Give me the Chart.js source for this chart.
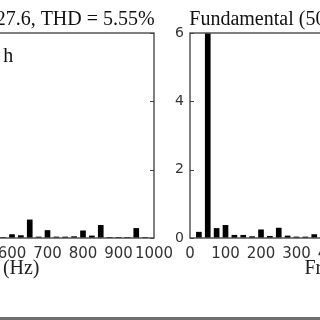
<!DOCTYPE html>
<html><head><meta charset="utf-8">
<script src="https://cdn.jsdelivr.net/npm/chart.js@4.4.1/dist/chart.umd.min.js"></script>
<style>
html,body{margin:0;padding:0;width:320px;height:320px;overflow:hidden;background:#fff;position:relative}
.c{position:absolute;top:0;width:420px;height:300px}
#bar{position:absolute;left:0;top:317px;width:320px;height:3px;background:#6e6e6e}
</style></head><body>
<div class="c" style="left:-231px"><canvas id="left" width="420" height="300"></canvas></div>
<div class="c" style="left:160px"><canvas id="right" width="420" height="300"></canvas></div>
<div id="bar"></div>
<script>
// Left panel: harmonic spectrum (% of fundamental), visible part 575–975 Hz
const leftFreqs = [575, 600, 625, 650, 675, 700, 725, 750, 775, 800, 825, 850, 875, 900, 925, 950, 975];
const leftMags  = [0.02, 0.10, 0.07, 0.53, 0.03, 0.22, 0.03, 0.03, 0.04, 0.21, 0.06, 0.37, 0.02, 0.02, 0.02, 0.28, 0.02];
// Right panel: visible part 25–375 Hz (fundamental at 50 Hz = 100 %)
const rightFreqs = [25, 50, 75, 100, 125, 150, 175, 200, 225, 250, 275, 300, 325, 350, 375];
const rightMags  = [0.17, 100, 0.28, 0.37, 0.08, 0.08, 0.04, 0.24, 0.05, 0.29, 0.06, 0.03, 0.03, 0.10, 0.05];

const xTicks = [0, 100, 200, 300, 400, 500, 600, 700, 800, 900, 1000];
const yTicks = [0, 2, 4, 6];
const leftTitle = 'Fundamental (50Hz) = 127.6, THD = 5.55%';
const rightTitle = 'Fundamental (50Hz) = 127.6, THD = 0.79%';
const xTitle = 'Frequency (Hz)';
const leftNote = 'h';

const framePlugin = {
  id: 'frameTitle',
  afterDatasetsDraw(chart, args, opts) {
    const {ctx, chartArea: a, scales} = chart;
    ctx.save();
    ctx.strokeStyle = '#555';
    ctx.lineWidth = 1.5;
    ctx.strokeRect(a.left, a.top, a.right - a.left, a.bottom - a.top);
    ctx.lineWidth = 1;
    ctx.strokeStyle = '#444';
    yTicks.forEach(v => {
      const y = Math.round(scales.y.getPixelForValue(v)) + 0.5;
      ctx.beginPath();
      ctx.moveTo(a.left, y); ctx.lineTo(a.left + 4, y);
      ctx.moveTo(a.right, y); ctx.lineTo(a.right - 4, y);
      ctx.stroke();
    });
    ctx.fillStyle = '#111';
    ctx.font = opts.titleSize + 'px "Liberation Serif"';
    ctx.textAlign = 'center';
    ctx.textBaseline = 'alphabetic';
    ctx.fillText(opts.text, (a.left + a.right) / 2, 25);
    if (opts.note) {
      ctx.font = '20px "Liberation Serif"';
      ctx.textAlign = 'left';
      ctx.fillText(opts.note, scales.x.getPixelForValue(opts.noteX), scales.y.getPixelForValue(opts.noteY));
    }
    ctx.restore();
  }
};

function makeChart(id, freqs, mags, title, titleSize, note) {
  return new Chart(document.getElementById(id), {
    type: 'bar',
    data: { datasets: [{
      data: freqs.map((f, i) => ({x: f, y: mags[i]})),
      backgroundColor: '#000', borderWidth: 0, barThickness: 5
    }]},
    options: {
      responsive: false, animation: false, events: [],
      layout: {padding: {top: 33, left: 0, right: 35, bottom: 0}},
      plugins: {
        legend: {display: false}, tooltip: {enabled: false},
        frameTitle: {text: title, titleSize: titleSize, note: note, noteX: 575, noteY: 5.15}
      },
      scales: {
        x: {
          type: 'linear', min: 0, max: 1000, offset: false,
          grid: {display: false, drawTicks: false, offset: false}, border: {display: false},
          afterBuildTicks: s => { s.ticks = xTicks.map(v => ({value: v})); },
          afterFit: s => { s.height = 62; s.paddingLeft = 0; s.paddingRight = 0; },
          ticks: {font: {family: 'DejaVu Sans', size: 15}, color: '#333', padding: 7,
                  autoSkip: false, maxRotation: 0, callback: v => String(v)},
          title: {display: true, text: xTitle, color: '#222',
                  font: {family: 'Liberation Serif', size: 20}, padding: {top: 0, bottom: 19}}
        },
        y: {
          min: 0, max: 6,
          grid: {display: false, drawTicks: false}, border: {display: false},
          afterBuildTicks: s => { s.ticks = yTicks.map(v => ({value: v})); },
          afterFit: s => { s.width = 30; s.paddingTop = 0; s.paddingBottom = 0; },
          ticks: {font: {family: 'DejaVu Sans', size: 14}, color: '#333', padding: 6,
                  callback: v => String(v)}
        }
      }
    },
    plugins: [framePlugin]
  });
}
makeChart('left', leftFreqs, leftMags, leftTitle, 20, leftNote);
makeChart('right', rightFreqs, rightMags, rightTitle, 20, null);
</script>
</body></html>
